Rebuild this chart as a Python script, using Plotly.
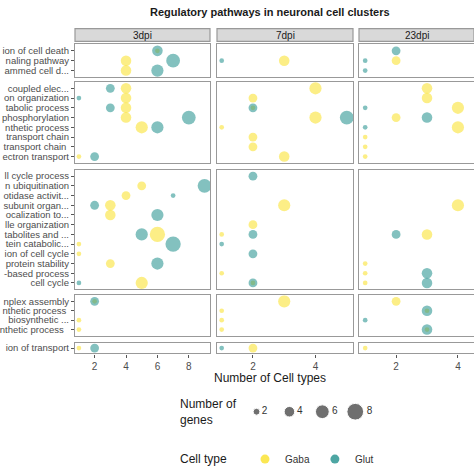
import plotly.graph_objects as go

# ---- data ----
days = ["3dpi", "7dpi", "23dpi"]
groups = [
    ["ion of cell death", "naling pathway", "ammed cell d..."],
    ["coupled elec...", "on organization", "tabolic process", "phosphorylation",
     "nthetic process", "transport chain", "transport chain ", "ectron transport"],
    ["ll cycle process", "n ubiquitination", "otidase activit...", "subunit organ...",
     "ocalization to...", "lle organization", "tabolites and ...", "tein catabolic...",
     "ion of cell cycle", "protein stability", "-based process", "cell cycle"],
    ["nplex assembly", "nthetic process ", "biosynthetic ...", "nthetic process  "],
    ["ion of transport"],
]
# (group, row, day, cell type, number of cell types, number of genes)
points = [
    (0, 0, 0, "Glut", 6, 4), (0, 0, 0, "Gaba", 6, 1), (0, 0, 2, "Glut", 2, 3),
    (0, 1, 0, "Gaba", 4, 4), (0, 1, 0, "Glut", 7, 6), (0, 1, 1, "Glut", 1, 1),
    (0, 1, 1, "Gaba", 3, 4), (0, 1, 2, "Gaba", 2, 3), (0, 1, 2, "Glut", 1, 1),
    (0, 2, 0, "Gaba", 4, 4), (0, 2, 0, "Glut", 6, 5), (0, 2, 2, "Glut", 1, 1),
    (1, 0, 0, "Glut", 3, 3), (1, 0, 0, "Gaba", 4, 4), (1, 0, 1, "Gaba", 4, 5), (1, 0, 2, "Gaba", 3, 4),
    (1, 1, 0, "Glut", 1, 1), (1, 1, 0, "Gaba", 4, 4), (1, 1, 1, "Gaba", 2, 3), (1, 1, 2, "Gaba", 3, 4),
    (1, 2, 0, "Glut", 3, 3), (1, 2, 0, "Gaba", 4, 4), (1, 2, 1, "Glut", 2, 3), (1, 2, 1, "Gaba", 2, 1),
    (1, 2, 2, "Glut", 1, 1), (1, 2, 2, "Gaba", 4, 5),
    (1, 3, 0, "Gaba", 4, 4), (1, 3, 0, "Glut", 8, 6), (1, 3, 1, "Gaba", 4, 5), (1, 3, 1, "Glut", 5, 6),
    (1, 3, 2, "Gaba", 2, 3), (1, 3, 2, "Glut", 3, 4),
    (1, 4, 0, "Gaba", 5, 5), (1, 4, 0, "Glut", 6, 5), (1, 4, 1, "Gaba", 1, 1),
    (1, 4, 2, "Glut", 1, 1), (1, 4, 2, "Gaba", 4, 5),
    (1, 5, 1, "Gaba", 2, 3), (1, 5, 2, "Gaba", 1, 1),
    (1, 6, 1, "Gaba", 2, 3), (1, 6, 2, "Gaba", 1, 1),
    (1, 7, 0, "Gaba", 1, 1), (1, 7, 0, "Glut", 2, 3), (1, 7, 1, "Gaba", 3, 4), (1, 7, 2, "Gaba", 1, 1),
    (2, 0, 1, "Glut", 2, 3),
    (2, 1, 0, "Gaba", 5, 3), (2, 1, 0, "Glut", 9, 6),
    (2, 2, 0, "Gaba", 4, 3), (2, 2, 0, "Glut", 7, 1),
    (2, 3, 0, "Glut", 2, 3), (2, 3, 0, "Gaba", 3, 4), (2, 3, 1, "Gaba", 3, 5), (2, 3, 2, "Gaba", 4, 5),
    (2, 4, 0, "Gaba", 3, 4), (2, 4, 0, "Glut", 6, 5),
    (2, 5, 1, "Gaba", 2, 3),
    (2, 6, 0, "Glut", 5, 5), (2, 6, 0, "Gaba", 6, 7), (2, 6, 1, "Gaba", 1, 1), (2, 6, 1, "Glut", 2, 3),
    (2, 6, 2, "Glut", 2, 3), (2, 6, 2, "Gaba", 3, 4),
    (2, 7, 0, "Gaba", 1, 1), (2, 7, 0, "Glut", 7, 7), (2, 7, 1, "Glut", 1, 1),
    (2, 8, 0, "Gaba", 1, 1), (2, 8, 1, "Glut", 2, 3),
    (2, 9, 0, "Gaba", 3, 3), (2, 9, 0, "Glut", 6, 5), (2, 9, 2, "Gaba", 1, 1),
    (2, 10, 1, "Gaba", 1, 1), (2, 10, 2, "Gaba", 1, 1), (2, 10, 2, "Glut", 3, 4),
    (2, 11, 0, "Glut", 1, 1), (2, 11, 0, "Gaba", 5, 5), (2, 11, 1, "Glut", 2, 3), (2, 11, 1, "Gaba", 2, 1),
    (2, 11, 2, "Gaba", 1, 1), (2, 11, 2, "Glut", 3, 4),
    (3, 0, 0, "Glut", 2, 3), (3, 0, 0, "Gaba", 2, 1), (3, 0, 1, "Gaba", 3, 5), (3, 0, 2, "Gaba", 2, 3),
    (3, 1, 1, "Gaba", 1, 1), (3, 1, 2, "Glut", 3, 4), (3, 1, 2, "Gaba", 3, 1),
    (3, 2, 0, "Gaba", 1, 1), (3, 2, 1, "Gaba", 1, 1), (3, 2, 2, "Glut", 1, 1),
    (3, 3, 0, "Gaba", 1, 1), (3, 3, 1, "Gaba", 1, 1), (3, 3, 2, "Glut", 3, 4), (3, 3, 2, "Gaba", 3, 1),
    (4, 0, 0, "Gaba", 1, 1), (4, 0, 0, "Glut", 2, 3), (4, 0, 1, "Glut", 1, 1),
    (4, 0, 1, "Gaba", 2, 3), (4, 0, 2, "Gaba", 1, 1),
]
size_legend = [2, 4, 6, 8]
cell_types = ["Gaba", "Glut"]

colors = {"Gaba": "rgba(250,225,40,0.8)", "Glut": "rgba(33,144,140,0.8)"}
W = H = 474
col_px = [(75, 210), (217, 353), (359, 474)]
x_ranges = [[0.75, 9.35], [0.85, 5.2], [0.8, 4.52]]
x_ticks = [[2, 4, 6, 8], [2, 4], [2, 4]]
row_px = [(45, 78), (83, 165), (172, 293), (299, 340), (347, 358)]


def size_px(n):
    return 3.2 * n ** 0.75 + 1.5


fig = go.Figure()
layout = {}
ax = 0
for g, labels in enumerate(groups):
    for d in range(3):
        ax += 1
        sfx = "" if ax == 1 else str(ax)
        pts = [p for p in points if p[0] == g and p[2] == d]
        for ct in cell_types:
            sel = [p for p in pts if p[3] == ct]
            fig.add_trace(go.Scatter(
                x=[p[4] for p in sel], y=[p[1] for p in sel], mode="markers",
                marker=dict(color=colors[ct], size=[size_px(p[5]) for p in sel], line_width=0),
                xaxis="x" + sfx, yaxis="y" + sfx, showlegend=False, hoverinfo="skip"))
        x0, x1 = col_px[d]
        y0, y1 = row_px[g]
        n = len(labels)
        last = g == len(groups) - 1
        layout["xaxis" + sfx] = dict(
            domain=[x0 / W, x1 / W], range=x_ranges[d], anchor="y" + sfx,
            tickvals=x_ticks[d] if last else [], showticklabels=last,
            ticks="outside" if last else "", ticklen=3, tickcolor="#555",
            showgrid=False, zeroline=False, showline=True, mirror=True,
            linecolor="#999", linewidth=1.2, tickfont=dict(size=10, color="#4d4d4d"))
        layout["yaxis" + sfx] = dict(
            domain=[1 - y1 / H, 1 - y0 / H], range=[n - 0.35, -0.65], anchor="x" + sfx,
            tickvals=list(range(n)), ticktext=labels, showticklabels=(d == 0),
            ticks="outside" if d == 0 else "", ticklen=3, tickcolor="#555",
            showgrid=False, zeroline=False, showline=True, mirror=True,
            linecolor="#999", linewidth=1.2, tickfont=dict(size=9.5, color="#4d4d4d"))

# size legend on its own axis
ax += 1
fig.add_trace(go.Scatter(
    x=size_legend, y=[0] * len(size_legend), mode="markers+text",
    marker=dict(color="#333", size=[size_px(s) for s in size_legend]),
    text=[str(s) for s in size_legend], textposition="middle right",
    textfont=dict(size=10, color="#333"),
    xaxis="x%d" % ax, yaxis="y%d" % ax, showlegend=False, hoverinfo="skip"))
layout["xaxis%d" % ax] = dict(domain=[245 / W, 375 / W], range=[1.3, 9.2], visible=False)
layout["yaxis%d" % ax] = dict(domain=[1 - 426 / H, 1 - 408 / H], range=[-1, 1], visible=False)

# cell type legend
for ct in cell_types:
    fig.add_trace(go.Scatter(x=[None], y=[None], mode="markers", name=ct,
                             marker=dict(color=colors[ct], size=9), xaxis="x", yaxis="y"))

shapes, annotations = [], []
for d, day in enumerate(days):
    x0, x1 = col_px[d]
    shapes.append(dict(type="rect", xref="paper", yref="paper", x0=x0 / W, x1=x1 / W,
                       y0=1 - 42 / H, y1=1 - 29 / H, fillcolor="#d9d9d9",
                       line=dict(color="#999", width=1.2)))
    annotations.append(dict(text=day, xref="paper", yref="paper", x=(x0 + x1) / 2 / W,
                            y=1 - 35.5 / H, showarrow=False, font=dict(size=10, color="#1a1a1a")))
annotations += [
    dict(text="<b>Regulatory pathways in neuronal cell clusters</b>", xref="paper", yref="paper",
         x=270 / W, y=1 - 12 / H, showarrow=False, font=dict(size=11, color="#1a1a1a")),
    dict(text="Number of Cell types", xref="paper", yref="paper", x=270 / W, y=1 - 383 / H,
         showarrow=False, font=dict(size=12, color="#1a1a1a")),
    dict(text="Number of<br>genes", xref="paper", yref="paper", x=178 / W, y=1 - 417 / H,
         xanchor="left", align="left", showarrow=False, font=dict(size=12, color="#1a1a1a")),
    dict(text="Cell type", xref="paper", yref="paper", x=178 / W, y=1 - 465 / H,
         xanchor="left", showarrow=False, font=dict(size=12, color="#1a1a1a")),
]
for a in annotations:
    a["yanchor"] = "middle"
    a.setdefault("xanchor", "center")

fig.update_layout(
    width=W, height=H, margin=dict(l=0, r=0, t=0, b=0),
    plot_bgcolor="white", paper_bgcolor="white",
    font=dict(family="Liberation Sans, Arial, sans-serif"),
    shapes=shapes, annotations=annotations,
    showlegend=True,
    legend=dict(orientation="h", x=245 / W, y=1 - 465 / H, yanchor="middle",
                font=dict(size=10, color="#333"), itemwidth=30),
    **layout,
)

fig.write_html("out.html", config={"displayModeBar": False},
               post_script="document.body.style.margin='0';")
